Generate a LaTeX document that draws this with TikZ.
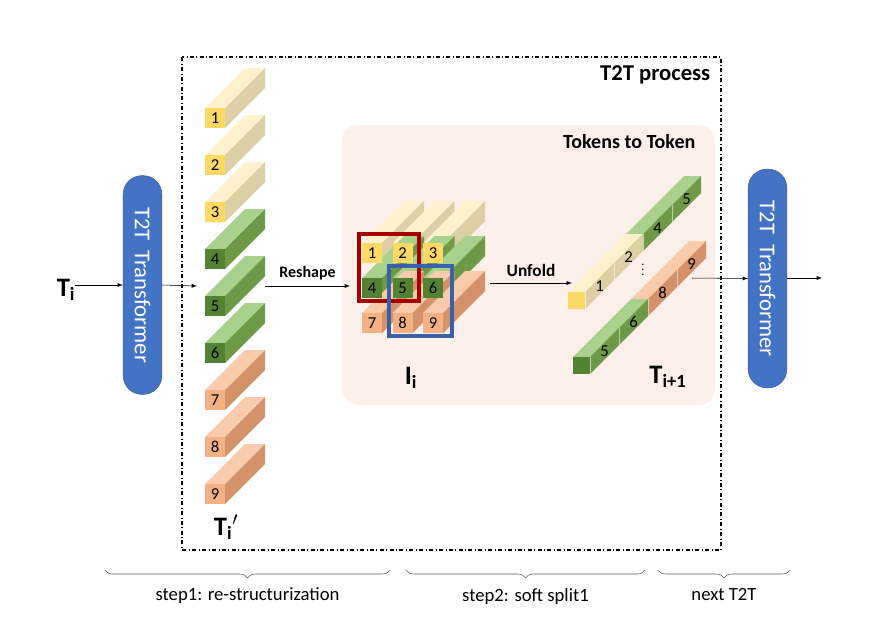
\documentclass[tikz,border=0pt]{standalone}
\usepackage{fontspec}
\setmainfont{Carlito}
\usetikzlibrary{positioning, decorations.pathreplacing}

\definecolor{yfront}{HTML}{FFD966}
\definecolor{ytop}{HTML}{FFF2CC}
\definecolor{yside}{HTML}{DCCFA6}
\definecolor{gfront}{HTML}{548235}
\definecolor{gtop}{HTML}{A9D18E}
\definecolor{gside}{HTML}{6E9A47}
\definecolor{ofront}{HTML}{F4B183}
\definecolor{otop}{HTML}{F8CBAD}
\definecolor{oside}{HTML}{D4926A}
\definecolor{tblue}{HTML}{4472C4}
\definecolor{pinkbg}{HTML}{FDF0EA}

% bar body: x, y (front top-left), size, depth x, depth up, colour prefix
\newcommand{\tokback}[6]{
\fill[#6top] (#1,#2) -- ++(#4,-#5) -- ++(#3,0) -- ++(-#4,#5) -- cycle;
\fill[#6side] (#1+#3,#2) -- ++(#4,-#5) -- ++(0,#3) -- ++(-#4,#5) -- cycle;
}
% bar front: x, y, size, colour prefix, label
\newcommand{\tokfront}[5]{
\fill[#4front] (#1,#2) rectangle ++(#3,#3);
\node[num] at (#1+#3/2,#2+#3/2) {#5};
}
% segment of an unfolded bar, label on its side
\newcommand{\tokseg}[6]{
\fill[#5top] (#1,#2) -- ++(#4,-#4) -- ++(#3,0) -- ++(-#4,#4) -- cycle;
\fill[#5side] (#1+#3,#2) -- ++(#4,-#4) -- ++(0,#3) -- ++(-#4,#4) -- cycle;
\fill[#5front] (#1,#2) rectangle ++(#3,#3);
\draw[white!60!#5side, thin] (#1+#3,#2) -- ++(0,#3);
\node[num] at (#1+#3+#4/2,#2+#3/2-#4/2) {#6};
}

\begin{document}
\begin{tikzpicture}[x=0.75pt, y=-0.75pt,
  num/.style={font=\fontsize{12.5}{13}\selectfont, inner sep=0pt},
  trans/.style={draw=tblue!80!black, fill=tblue, rounded corners=14pt,
    minimum width=29pt, minimum height=164pt, text=white,
    font=\fontsize{17}{18}\selectfont, inner sep=0pt},
  lbl/.style={font=\bfseries\fontsize{20}{22}\selectfont, inner sep=0pt},
  arr/.style={-latex, thin},
  brace/.style={decorate, decoration={brace, mirror, amplitude=6pt}, gray!70!black}]

\useasboundingbox (0,0) rectangle (870,622);

% frames
\fill[pinkbg, rounded corners=12pt] (342,125) rectangle (715,405);
\draw[dash dot, thick] (182,57) rectangle (721,550);
\node[font=\bfseries\fontsize{17}{18}\selectfont, anchor=east] (proc) at (715,75) {T2T process};
\node[font=\bfseries\fontsize{15}{16}\selectfont, anchor=east] (t2t) at (700,142) {Tokens to Token};

% transformers
\node[trans] (trL) at (142.5,285) {\rotatebox{-90}{T2T~~Transformer}};
\node[trans] (trR) at (767.5,278.5) {\rotatebox{-90}{T2T~~Transformer}};
\node[lbl] (ti) at (66,290) {T\textsubscript{i}};
\coordinate (cin) at (197,286);
\coordinate (cout) at (822,278);
\draw[arr] (ti.east |- trL.west) -- (trL.west);
\draw[arr] (trL.east) -- (cin);
\draw[arr] (trR.east |- cout) -- (cout);

% token column
\foreach \k/\c in {1/y,2/y,3/y,4/g,5/g,6/g,7/o,8/o,9/o}
{
  \pgfmathsetmacro{\yy}{108+47*(\k-1)}
  \tokback{205}{\yy}{20}{40}{40}{\c}
  \tokfront{205}{\yy}{20}{\c}{\k}
}
\node[lbl] (tip) at (226,527) {T\textsubscript{i}$'$};

% reshape
\coordinate (rs) at (265,286);
\coordinate (re) at (350,286);
\draw[arr] (rs) -- (re) node[midway, above=1pt, font=\bfseries\fontsize{12}{13}\selectfont] {Reshape};

% 3x3 grid
\foreach \r/\c in {0/y,1/g,2/o}
  \foreach \col in {0,1,2}
  {
    \pgfmathsetmacro{\xx}{362+30.5*\col}
    \pgfmathsetmacro{\yy}{243+35*\r}
    \tokback{\xx}{\yy}{20}{42}{42}{\c}
  }
\foreach \r/\c in {0/y,1/g,2/o}
  \foreach \col in {0,1,2}
  {
    \pgfmathtruncatemacro{\n}{3*\r+\col+1}
    \pgfmathsetmacro{\xx}{362+30.5*\col}
    \pgfmathsetmacro{\yy}{243+35*\r}
    \tokfront{\xx}{\yy}{20}{\c}{\n}
  }
\draw[red!65!black, line width=2.6pt] (359,234) rectangle (419,301);
\draw[tblue!85!black, line width=2.6pt] (389,266) rectangle (452,336);
\node[lbl] (ii) at (411,378) {I\textsubscript{i}};

% unfold
\coordinate (us) at (490,283);
\coordinate (ue) at (572,283);
\draw[arr] (us) -- (ue) node[midway, above=1pt, font=\bfseries\fontsize{13}{14}\selectfont] {Unfold};

% unfolded tokens
\tokseg{655}{205}{17}{29}{g}{5}
\tokseg{626}{234}{17}{29}{g}{4}
\tokseg{597}{263}{17}{29}{y}{2}
\tokseg{568}{292}{17}{29}{y}{1}
\tokseg{660}{270}{17}{29}{o}{9}
\tokseg{631}{299}{17}{29}{o}{8}
\tokseg{602}{328}{17}{29}{g}{6}
\tokseg{573}{357}{17}{29}{g}{5}
\node[inner sep=0pt, font=\small] (dots) at (643,266) {$\vdots$};
\node[lbl] (tnext) at (668,377) {T\textsubscript{i+1}};
\coordinate (ut) at (692,278);
\draw[arr] (ut) -- (trR.west);

% steps
\coordinate (b1a) at (105,570); \coordinate (b1b) at (390,570);
\coordinate (b2a) at (406,570); \coordinate (b2b) at (645,570);
\coordinate (b3a) at (658,570); \coordinate (b3b) at (790,570);
\draw[brace] (b1a) -- (b1b) node[midway, below=10pt, black, font=\fontsize{14}{15}\selectfont] {step1: re-structurization};
\draw[brace] (b2a) -- (b2b) node[midway, below=10pt, black, font=\fontsize{14}{15}\selectfont] {step2: soft split1};
\draw[brace] (b3a) -- (b3b) node[midway, below=10pt, black, font=\fontsize{14}{15}\selectfont] {next T2T};

\end{tikzpicture}
\end{document}
